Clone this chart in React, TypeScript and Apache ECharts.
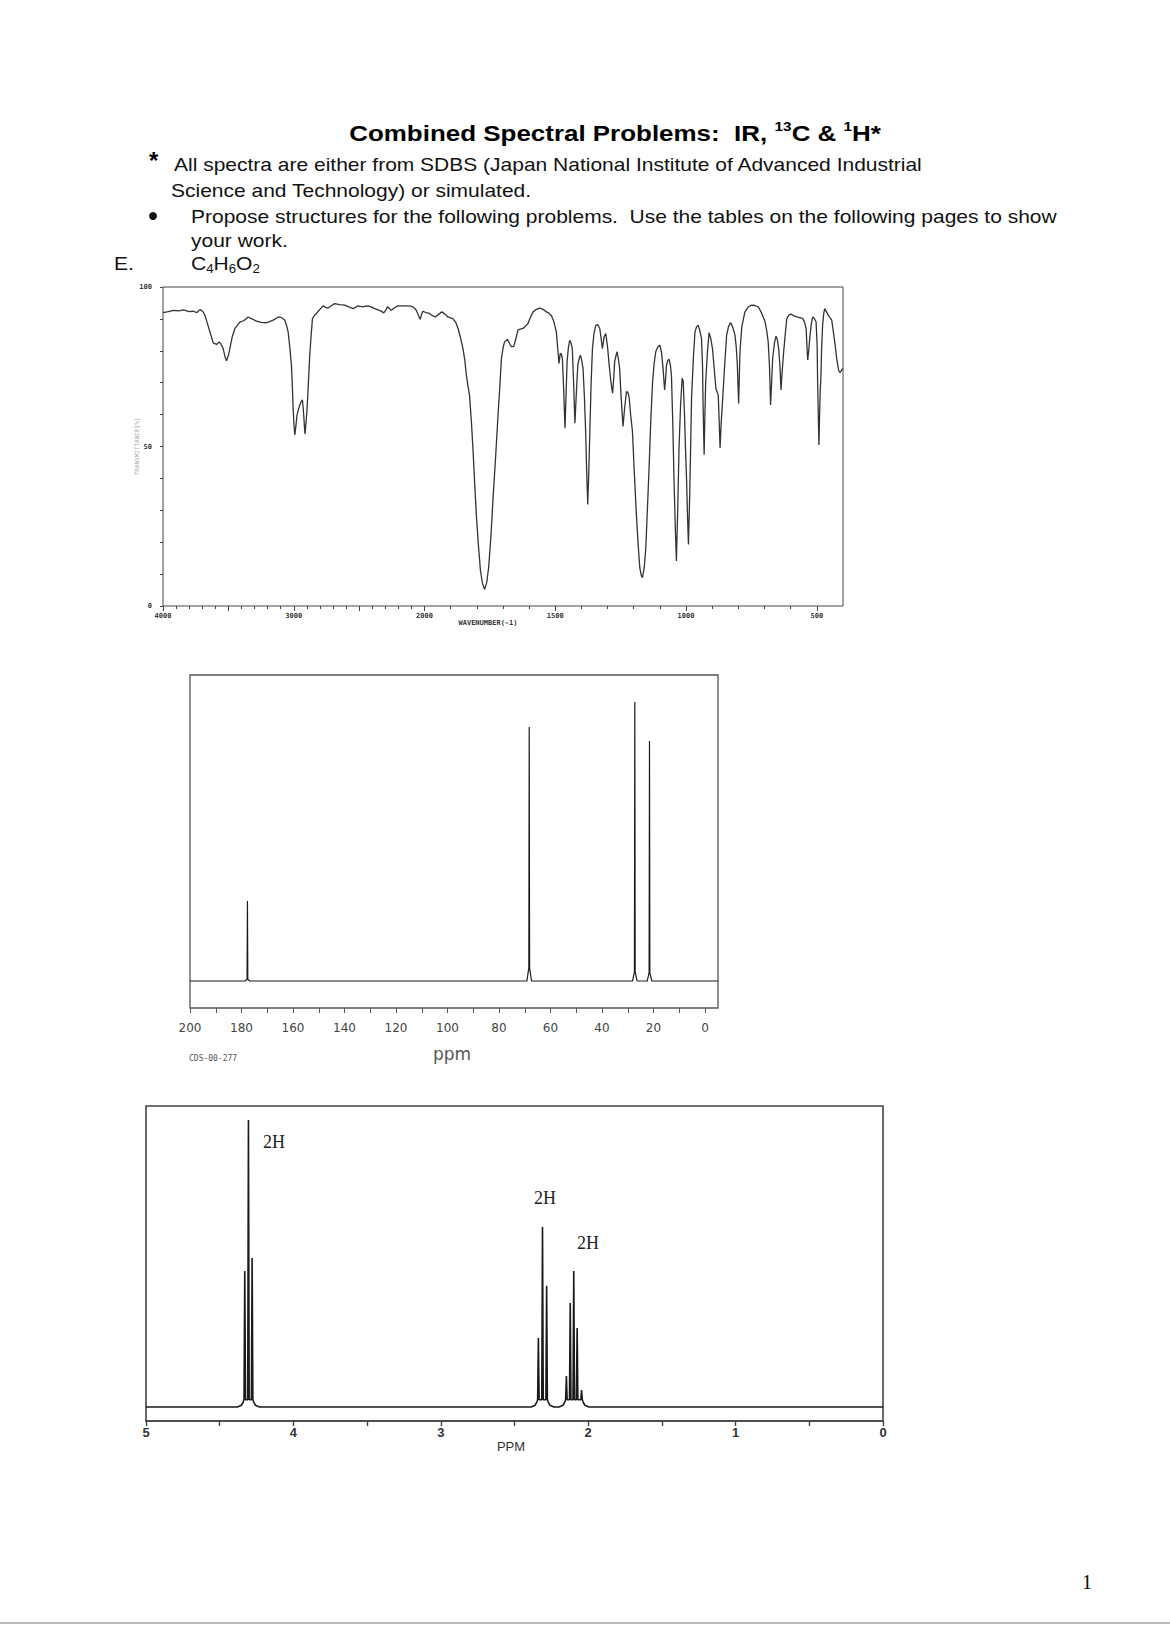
import React, { useEffect, useRef } from 'react';
import * as echarts from 'echarts';

// ---------------- IR spectrum (wavenumber cm-1, % transmittance) ----------------
const irWavenumbers = [
  4000, 3960, 3921, 3880, 3844, 3800, 3769, 3740, 3718, 3695, 3679, 3660, 3641, 3616, 3590, 3570, 3555, 3540, 3525, 3514,
  3500, 3489, 3470, 3450, 3412, 3380, 3349, 3320, 3285, 3250, 3208, 3180, 3158, 3130, 3107, 3085, 3069, 3055, 3043, 3030,
  3018, 3010, 3005, 2998, 2992, 2985, 2975, 2965, 2954, 2944, 2934, 2928, 2924, 2918, 2914, 2906, 2898, 2888, 2878, 2867,
  2857, 2840, 2827, 2800, 2776, 2755, 2738, 2710, 2687, 2650, 2611, 2580, 2547, 2528, 2509, 2490, 2471, 2450, 2433, 2405,
  2382, 2340, 2311, 2295, 2285, 2270, 2254, 2230, 2204, 2150, 2102, 2080, 2063, 2045, 2033, 2022, 2013, 1995, 1981, 1970,
  1959, 1945, 1934, 1922, 1911, 1892, 1880, 1872, 1862, 1853, 1846, 1840, 1834, 1828, 1821, 1815, 1808, 1802, 1794, 1786,
  1778, 1770, 1762, 1755, 1746, 1738, 1728, 1719, 1712, 1706, 1700, 1694, 1683, 1675, 1668, 1659, 1650, 1643, 1634, 1624,
  1615, 1605, 1595, 1585, 1572, 1560, 1547, 1534, 1525, 1515, 1505, 1496, 1490, 1486, 1481, 1477, 1473, 1468, 1463, 1459,
  1455, 1450, 1445, 1440, 1435, 1430, 1425, 1420, 1414, 1409, 1404, 1399, 1394, 1389, 1384, 1380, 1376, 1372, 1368, 1363,
  1358, 1352, 1345, 1338, 1330, 1325, 1320, 1313, 1307, 1300, 1294, 1287, 1281, 1277, 1273, 1268, 1264, 1259, 1254, 1248,
  1241, 1235, 1228, 1223, 1218, 1212, 1205, 1198, 1190, 1183, 1177, 1172, 1167, 1160, 1154, 1148, 1141, 1135, 1128, 1122,
  1116, 1108, 1100, 1094, 1088, 1085, 1082, 1078, 1075, 1070, 1065, 1060, 1056, 1051, 1046, 1041, 1037, 1032, 1027, 1021,
  1015, 1011, 1006, 1002, 998, 994, 991, 986, 979, 972, 966, 960, 954, 948, 941, 937, 935, 931, 928, 925,
  918, 912, 906, 899, 892, 886, 881, 877, 873, 870, 866, 860, 852, 845, 838, 830, 822, 813, 808, 804,
  801, 799, 797, 794, 787, 775, 762, 749, 737, 724, 711, 698, 692, 686, 681, 677, 673, 669, 662, 656,
  651, 646, 641, 637, 633, 628, 621, 615, 607, 599, 588, 577, 565, 554, 547, 541, 537, 535, 531, 526,
  521, 516, 510, 503, 499, 497, 494, 492, 490, 487, 485, 482, 478, 474, 470, 463, 456, 450, 443, 437,
  430, 424, 417, 412, 408, 404, 400,
];
const irTransmittance = [
  92.0, 92.3, 92.7, 92.5, 92.8, 92.3, 92.4, 92.0, 92.9, 92.3, 91.1, 88.5, 85.9, 82.5, 82.0, 82.8, 82.0, 80.7, 78.0, 76.9,
  78.5, 80.7, 84.5, 87.0, 89.0, 89.5, 90.6, 90.0, 89.3, 88.9, 88.8, 89.2, 89.6, 90.3, 90.6, 90.2, 89.6, 88.0, 85.9, 81.0,
  75.5, 68.0, 62.0, 56.5, 53.6, 56.0, 59.9, 61.5, 63.0, 64.0, 64.6, 62.0, 59.9, 56.0, 53.9, 57.5, 62.0, 70.0, 78.6, 85.0,
  90.1, 91.2, 91.7, 93.0, 94.1, 93.6, 93.4, 94.2, 94.8, 94.5, 94.3, 93.8, 93.2, 93.6, 94.1, 93.9, 93.8, 94.0, 94.1, 93.7,
  93.2, 92.6, 91.9, 92.8, 93.8, 93.3, 92.7, 93.5, 94.1, 94.1, 94.0, 93.5, 92.7, 91.0, 89.9, 91.5, 92.4, 92.0, 91.7, 91.0,
  90.6, 91.5, 92.2, 91.5, 90.6, 90.1, 88.8, 87.0, 84.0, 80.7, 77.0, 72.4, 69.0, 66.1, 58.0, 49.5, 38.0, 28.6, 19.0, 10.9,
  7.0, 5.2, 7.5, 12.0, 22.0, 33.9, 47.0, 59.9, 69.0, 77.6, 80.8, 82.8, 83.6, 82.3, 81.3, 81.3, 84.0, 86.5, 86.8, 87.0,
  87.6, 88.5, 90.5, 92.2, 93.0, 93.4, 93.0, 92.2, 91.8, 91.1, 89.0, 85.9, 80.0, 76.0, 79.2, 79.0, 77.6, 68.0, 55.7, 66.0,
  76.6, 81.0, 83.3, 82.5, 80.7, 70.0, 57.3, 66.0, 75.5, 77.5, 78.6, 77.0, 74.5, 66.0, 54.7, 42.0, 31.8, 42.0, 54.7, 70.0,
  80.7, 85.5, 88.0, 88.2, 87.0, 84.0, 80.7, 84.5, 85.4, 81.0, 75.5, 70.0, 66.7, 71.0, 76.6, 78.5, 79.7, 77.5, 74.5, 65.0,
  56.3, 62.0, 67.2, 67.0, 65.6, 60.0, 54.7, 42.0, 28.6, 19.0, 12.0, 9.8, 8.9, 12.0, 18.2, 30.0, 44.3, 58.0, 70.3, 76.0,
  79.7, 81.2, 81.8, 79.5, 74.5, 71.0, 67.7, 71.5, 75.5, 77.0, 77.4, 75.5, 72.4, 58.0, 39.1, 24.0, 14.1, 30.0, 49.5, 63.0,
  71.4, 70.5, 59.9, 49.0, 39.1, 27.0, 19.3, 35.0, 65.1, 78.0, 85.9, 87.5, 88.0, 86.5, 83.9, 75.0, 63.0, 47.4, 60.0, 70.3,
  80.0, 85.7, 84.0, 80.7, 74.0, 68.2, 67.0, 66.1, 57.0, 49.5, 57.0, 65.1, 76.0, 84.9, 87.5, 88.9, 87.5, 84.9, 81.0, 75.5,
  68.0, 63.5, 70.0, 79.7, 87.5, 92.2, 93.8, 94.3, 94.2, 93.8, 91.8, 89.1, 86.5, 82.8, 75.0, 63.0, 70.0, 77.6, 82.5, 84.6,
  83.5, 80.7, 75.0, 67.7, 73.0, 78.6, 85.0, 90.1, 91.2, 91.5, 91.0, 90.6, 90.4, 90.1, 89.0, 87.0, 80.0, 77.1, 80.0, 84.9,
  88.5, 90.6, 90.2, 89.1, 82.0, 70.3, 58.0, 50.5, 58.0, 68.0, 70.3, 80.0, 88.0, 91.5, 93.2, 92.2, 91.1, 90.4, 89.6, 86.0,
  81.8, 77.5, 74.0, 73.2, 73.5, 74.2, 74.4,
];
const irTickLabels = [4000, 3000, 2000, 1500, 1000, 500];
const irYTickLabels = [0, 50, 100];

// ---------------- 13C NMR (ppm, relative intensity) ----------------
const c13Shifts = [177.7, 68.3, 27.3, 21.6];
const c13Heights = [28.8, 91.3, 100.3, 86.3];
const c13FootHeights = [0.6, 4.7, 3.2, 2.9];
const c13TickLabels = [200, 180, 160, 140, 120, 100, 80, 60, 40, 20, 0];

// ---------------- 1H NMR (ppm, relative intensity) ----------------
const h1LinePpm = [
  [4.33, 4.305, 4.28],
  [2.338, 2.31, 2.282],
  [2.148, 2.122, 2.098, 2.075, 2.045],
];
const h1LineHeights = [
  [47.4, 100, 51.9],
  [24, 62.7, 42.2],
  [10.8, 36.2, 47.4, 27.5, 5.9],
];
const h1Integrals = ['2H', '2H', '2H'];
const h1TickLabels = [5, 4, 3, 2, 1, 0];

const SANS = "'Liberation Sans', Arial, Helvetica, sans-serif";
const MONO = "'DejaVu Sans Mono', monospace";
const VERD = "'DejaVu Sans', Verdana, sans-serif";
const SERIF = "'Liberation Serif', 'Times New Roman', serif";

// piecewise IR abscissa: 4000-2000 at one scale, 2000-400 at double scale
const irPos = (w: number) => (w >= 2000 ? (4000 - w) / 1000 : 2 + (2000 - w) / 500);

function build13C(): number[][] {
  const pts: number[][] = [[200, 0]];
  c13Shifts.forEach((c, i) => {
    const h = c13Heights[i];
    const b = c13FootHeights[i];
    pts.push([c + 0.9, 0], [c + 0.45, b * 0.6], [c + 0.15, b], [c, h], [c - 0.15, b], [c - 0.45, b * 0.6], [c - 0.9, 0]);
  });
  pts.push([-5, 0]);
  return pts;
}

function build1H(): number[][] {
  const pts: number[][] = [[5, 0]];
  h1LinePpm.forEach((lines, m) => {
    const first = lines[0];
    const last = lines[lines.length - 1];
    pts.push([first + 0.05, 0], [first + 0.022, 0.6], [first + 0.01, 1.8]);
    lines.forEach((p, i) => {
      const h = h1LineHeights[m][i];
      pts.push([p + 0.005, 2.5], [p, h], [p - 0.005, 2.5]);
    });
    pts.push([last - 0.01, 1.8], [last - 0.022, 0.6], [last - 0.05, 0]);
  });
  pts.push([0, 0]);
  return pts;
}

export default function App() {
  const ref = useRef<HTMLDivElement>(null);

  useEffect(() => {
    if (!ref.current) return;
    const chart = echarts.init(ref.current, undefined, { renderer: 'svg' });

    const irData = irWavenumbers.map((w, i) => [irPos(w), irTransmittance[i]]);
    const irLabelSet = new Set(irTickLabels);
    const irYSet = new Set(irYTickLabels);
    const c13Set = new Set(c13TickLabels);
    const h1Set = new Set(h1TickLabels);

    const irLabelStyle = { fontSize: 7, fontFamily: MONO, fontWeight: 'bold' as const, color: '#333' };
    const hidden = { show: false };
    const hiddenLine = { show: false, onZero: false };

    const text = (x: number, y: number, str: string, extra: any = {}, scaleX = 1.105) => ({
      type: 'text',
      x,
      y,
      scaleX,
      silent: true,
      style: {
        text: str,
        fontSize: 19,
        fontFamily: SANS,
        fill: '#111',
        textAlign: 'left',
        textVerticalAlign: 'middle',
        ...extra,
      },
    });

    const option: any = {
      animation: false,
      backgroundColor: '#ffffff',
      grid: [
        { left: 163, top: 287, width: 680, height: 319, show: true, borderColor: '#444', borderWidth: 1, backgroundColor: 'transparent' },
        { left: 163, top: 287, width: 261.5, height: 319, show: false },
        { left: 424.5, top: 287, width: 392.3, height: 319, show: false },
        { left: 190, top: 675, width: 528, height: 333, show: true, borderColor: '#555', borderWidth: 1.3, backgroundColor: 'transparent' },
        { left: 190, top: 675, width: 515, height: 333, show: false },
        { left: 146, top: 1106, width: 737, height: 315, show: true, borderColor: '#444', borderWidth: 1.6, backgroundColor: 'transparent' },
      ],
      xAxis: [
        { gridIndex: 0, type: 'value', min: 0, max: 5.2, axisLine: hiddenLine, axisTick: hidden, axisLabel: hidden, splitLine: hidden },
        {
          gridIndex: 1, type: 'value', min: 2000, max: 4000, inverse: true, interval: 500,
          axisLine: hiddenLine,
          axisTick: { show: true, length: 5, lineStyle: { color: '#444' } },
          minorTick: { show: true, splitNumber: 5, length: 3, lineStyle: { color: '#444' } },
          axisLabel: { ...irLabelStyle, margin: 6, showMinLabel: true, showMaxLabel: true, formatter: (v: number) => (irLabelSet.has(v) ? String(v) : '') },
          splitLine: hidden,
        },
        {
          gridIndex: 2, type: 'value', min: 500, max: 2000, inverse: true, interval: 500,
          axisLine: hiddenLine,
          axisTick: { show: true, length: 5, lineStyle: { color: '#444' } },
          minorTick: { show: true, splitNumber: 5, length: 3, lineStyle: { color: '#444' } },
          axisLabel: { ...irLabelStyle, margin: 6, formatter: (v: number) => (irLabelSet.has(v) && v !== 2000 ? String(v) : '') },
          splitLine: hidden,
        },
        { gridIndex: 3, type: 'value', min: -5, max: 200, inverse: true, axisLine: hiddenLine, axisTick: hidden, axisLabel: hidden, splitLine: hidden },
        {
          gridIndex: 4, type: 'value', min: 0, max: 200, inverse: true, interval: 10,
          axisLine: hiddenLine,
          axisTick: { show: true, length: 5, lineStyle: { color: '#555' } },
          axisLabel: { fontSize: 12, fontFamily: VERD, color: '#444', margin: 14, showMinLabel: true, showMaxLabel: true, formatter: (v: number) => (c13Set.has(v) ? String(v) : '') },
          splitLine: hidden,
        },
        {
          gridIndex: 5, type: 'value', min: 0, max: 5, inverse: true, interval: 0.5,
          axisLine: { show: true, onZero: false, lineStyle: { color: '#444', width: 1.6 } },
          axisTick: { show: true, length: 5, lineStyle: { color: '#444', width: 1.4 } },
          axisLabel: { fontSize: 13, fontFamily: SANS, fontWeight: 'bold', color: '#333', margin: 5, showMinLabel: true, showMaxLabel: true, formatter: (v: number) => (h1Set.has(v) ? String(v) : '') },
          splitLine: hidden,
        },
      ],
      yAxis: [
        {
          gridIndex: 0, type: 'value', min: 0, max: 100, interval: 10,
          axisLine: hiddenLine,
          axisTick: { show: true, length: 3, lineStyle: { color: '#444' } },
          axisLabel: { ...irLabelStyle, margin: 11, formatter: (v: number) => (irYSet.has(v) ? String(v) : '') },
          splitLine: hidden,
          name: 'TRANSMITTANCE[%]',
          nameLocation: 'middle',
          nameGap: 24,
          nameRotate: 90,
          nameMoveOverlap: false,
          nameTextStyle: { fontSize: 6, fontFamily: MONO, color: '#aaa' },
        },
        { gridIndex: 1, type: 'value', show: false, min: 0, max: 100 },
        { gridIndex: 2, type: 'value', show: false, min: 0, max: 100 },
        { gridIndex: 3, type: 'value', show: false, min: -9.7, max: 110 },
        { gridIndex: 4, type: 'value', show: false, min: -9.7, max: 110 },
        { gridIndex: 5, type: 'value', show: false, min: -4.9, max: 104.9 },
      ],
      series: [
        {
          type: 'line', xAxisIndex: 0, yAxisIndex: 0, data: irData, showSymbol: false, symbol: 'none',
          lineStyle: { color: '#333', width: 1.3 }, silent: true,
        },
        {
          type: 'line', xAxisIndex: 3, yAxisIndex: 3, data: build13C(), showSymbol: false, symbol: 'none',
          lineStyle: { color: '#1a1a1a', width: 1.2 }, silent: true,
        },
        {
          type: 'line', xAxisIndex: 5, yAxisIndex: 5, data: build1H(), showSymbol: false, symbol: 'none',
          lineStyle: { color: '#1a1a1a', width: 1.6 }, silent: true,
        },
      ],
      graphic: [
        text(615, 133, 'Combined Spectral Problems:  IR, {s|13}C & {s|1}H*', {
          fontSize: 22, fontWeight: 'bold', textAlign: 'center', lineHeight: 26, fill: '#000',
          rich: { s: { fontSize: 13, fontWeight: 'bold', fontFamily: SANS, lineHeight: 14, verticalAlign: 'top', fill: '#000' } },
        }, 1.18),
        text(149, 148, '*', { fontSize: 24, fontWeight: 'bold', textVerticalAlign: 'top', fill: '#000' }, 1),
        text(174, 164, 'All spectra are either from SDBS (Japan National Institute of Advanced Industrial'),
        text(171, 190, 'Science and Technology) or simulated.'),
        { type: 'circle', shape: { cx: 153, cy: 216, r: 4 }, style: { fill: '#111' }, silent: true },
        text(191, 216, 'Propose structures for the following problems.\u00a0 Use the tables on the following pages to show'),
        text(191, 240, 'your work.'),
        text(114, 263, 'E.'),
        text(191, 263, 'C{b|4}H{b|6}O{b|2}', {
          lineHeight: 24,
          rich: { b: { fontSize: 12, fontFamily: SANS, lineHeight: 12, verticalAlign: 'bottom', fill: '#111' } },
        }),
        text(488, 623, 'WAVENUMBER(-1)', { fontSize: 7, fontFamily: MONO, fontWeight: 'bold', fill: '#333', textAlign: 'center' }, 1),
        text(452, 1054, 'ppm', { fontSize: 17, fontFamily: VERD, fill: '#555', textAlign: 'center' }, 1),
        text(189, 1058, 'CDS-00-277', { fontSize: 8, fontFamily: MONO, fill: '#555' }, 1),
        text(274, 1142, h1Integrals[0], { fontSize: 18, fontFamily: SERIF, fill: '#222', textAlign: 'center' }, 1),
        text(545, 1198, h1Integrals[1], { fontSize: 18, fontFamily: SERIF, fill: '#222', textAlign: 'center' }, 1),
        text(588, 1243, h1Integrals[2], { fontSize: 18, fontFamily: SERIF, fill: '#222', textAlign: 'center' }, 1),
        text(511, 1446, 'PPM', { fontSize: 13, fontFamily: SANS, fill: '#333', textAlign: 'center' }, 1),
        text(1087, 1582, '1', { fontSize: 21, fontFamily: SERIF, fill: '#111', textAlign: 'center' }, 1),
        { type: 'line', shape: { x1: 0, y1: 1623, x2: 1170, y2: 1623 }, style: { stroke: '#777', lineWidth: 1 }, silent: true },
      ],
    };

    chart.setOption(option);
    return () => chart.dispose();
  }, []);

  return (
    <div
      ref={ref}
      style={{ position: 'absolute', left: 0, top: 0, width: 1170, height: 1626, background: '#fff' }}
    />
  );
}
